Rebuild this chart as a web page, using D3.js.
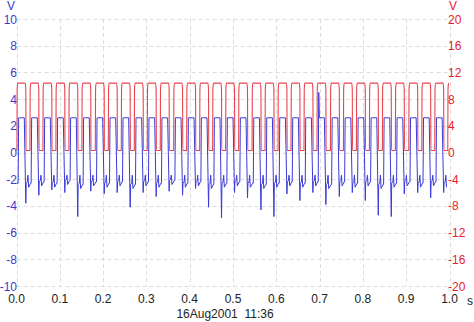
<!DOCTYPE html>
<html>
<head>
<meta charset="utf-8">
<script src="https://cdn.jsdelivr.net/npm/d3@7/dist/d3.min.js"></script>
<style>
  html, body { margin: 0; padding: 0; background: #fff; }
  svg { display: block; }
  text { font-family: "Liberation Sans", Arial, sans-serif; }
</style>
</head>
<body>
<svg id="chart" width="474" height="322"></svg>
<script>
// Scope capture, 16 Aug 2001 11:36 — two channels over one second.
const xTicks = [0.0, 0.1, 0.2, 0.3, 0.4, 0.5, 0.6, 0.7, 0.8, 0.9, 1.0];
const leftTicks = [10, 8, 6, 4, 2, 0, -2, -4, -6, -8, -10];
const rightTicks = [20, 16, 12, 8, 4, 0, -4, -8, -12, -16, -20];
const timeUnit = "s";
const leftUnit = "V";
const rightUnit = "V";
const stamp = "16Aug2001  11:36";

// Channel B (red, right axis): rising / falling edge times of each pulse
const redRise = [0.001, 0.031, 0.061, 0.091, 0.121, 0.151, 0.182, 0.212, 0.242, 0.272,
  0.302, 0.332, 0.363, 0.393, 0.423, 0.453, 0.483, 0.513, 0.544, 0.574, 0.604, 0.634,
  0.664, 0.694, 0.725, 0.755, 0.785, 0.815, 0.845, 0.875, 0.906, 0.936, 0.966, 0.996];
const redFall = [0.022, 0.052, 0.082, 0.112, 0.142, 0.172, 0.203, 0.233, 0.263, 0.293,
  0.323, 0.353, 0.384, 0.414, 0.444, 0.474, 0.504, 0.534, 0.565, 0.595, 0.625, 0.655,
  0.685, 0.715, 0.746, 0.776, 0.806, 0.836, 0.866, 0.896, 0.927, 0.957, 0.987];
const redHigh = 10.4;
const redLow = 0.3;

// Channel A (blue, left axis): per cycle plateau start/end, first-sample level,
// dip minimum after the plateau, and floor level
const blueUp = [0.005, 0.035, 0.065, 0.095, 0.125, 0.155, 0.186, 0.216, 0.246, 0.276,
  0.306, 0.336, 0.367, 0.397, 0.427, 0.457, 0.487, 0.517, 0.548, 0.578, 0.608, 0.638,
  0.668, 0.698, 0.729, 0.759, 0.789, 0.819, 0.849, 0.879, 0.910, 0.940, 0.970];
const blueDown = [0.018, 0.048, 0.078, 0.108, 0.138, 0.168, 0.199, 0.229, 0.259, 0.289,
  0.319, 0.349, 0.380, 0.410, 0.440, 0.470, 0.500, 0.530, 0.561, 0.591, 0.621, 0.651,
  0.681, 0.711, 0.742, 0.772, 0.802, 0.832, 0.862, 0.892, 0.923, 0.953, 0.983];
const blueTop = [2.6, 2.6, 2.6, 2.6, 2.6, 2.6, 2.6, 2.6, 2.6, 2.6, 2.6, 2.6, 2.6, 2.6,
  2.6, 2.6, 2.6, 2.6, 2.6, 2.6, 2.6, 2.6, 2.6, 4.5, 2.6, 2.6, 2.6, 2.6, 2.6, 2.6,
  2.6, 2.6, 2.6];
const blueMin = [-3.8, -3.2, -2.8, -3.0, -4.8, -2.9, -3.1, -3.0, -4.1, -3.0, -3.3,
  -2.9, -3.2, -2.7, -4.1, -4.9, -3.0, -3.4, -4.3, -4.8, -3.1, -3.6, -3.0, -3.9,
  -3.3, -3.0, -3.6, -4.7, -4.8, -3.1, -3.0, -3.4, -3.0];
const blueFloor = [-2.3, -2.2, -2.3, -2.1, -2.4, -2.2, -2.3, -2.2, -2.4, -2.2, -2.3,
  -2.1, -2.3, -2.2, -2.4, -2.3, -2.2, -2.3, -2.4, -2.3, -2.2, -2.3, -2.2, -2.4,
  -2.2, -2.3, -2.2, -2.4, -2.3, -2.2, -2.3, -2.2, -2.3];
const blueBump = -1.7;
const blueHigh = 2.6;

const svg = d3.select("#chart");
const x = d3.scaleLinear().domain([0, 1]).range([16.5, 449.5]);
const yL = d3.scaleLinear().domain([-10, 10]).range([286, 19]);
const yR = d3.scaleLinear().domain([-20, 20]).range([286, 19]);

const blueInk = "#3a3ad8";
const redInk = "#e8454e";

// dashed grid
const grid = svg.append("g").attr("stroke", "#dcdcdc").attr("stroke-dasharray", "4,3").attr("stroke-width", 1);
grid.selectAll("line.v").data(xTicks).join("line")
  .attr("x1", d => Math.round(x(d)) + 0.5).attr("x2", d => Math.round(x(d)) + 0.5)
  .attr("y1", yL(10)).attr("y2", yL(-10));
grid.selectAll("line.h").data(leftTicks).join("line")
  .attr("y1", d => Math.round(yL(d)) + 0.5).attr("y2", d => Math.round(yL(d)) + 0.5)
  .attr("x1", x(0)).attr("x2", x(1));

// red trace: pulses with softened top corners
const ease = 0.0018;
const redPts = [[0, redLow]];
redRise.forEach((r, i) => {
  redPts.push([r, redLow], [r + ease * 0.3, redHigh - 1.0], [r + ease, redHigh]);
  if (i < redFall.length) {
    const f = redFall[i];
    redPts.push([f - ease, redHigh], [f - ease * 0.3, redHigh - 1.0], [f, redLow]);
  }
});
svg.append("path").datum(redPts.filter(p => p[0] <= 1.0))
  .attr("fill", "none").attr("stroke", redInk).attr("stroke-width", 1.1)
  .attr("stroke-linejoin", "round")
  .attr("d", d3.line().curve(d3.curveMonotoneX).x(d => x(d[0])).y(d => yR(d[1])));

// blue trace: plateau, sharp dip at the red falling edge, noisy floor, recovery
const bluePts = [[0, blueFloor[0]]];
blueUp.forEach((u, i) => {
  const d = blueDown[i];
  const next = i + 1 < blueUp.length ? blueUp[i + 1] : 1.0;
  bluePts.push([u - 0.0012, blueFloor[Math.max(0, i - 1)]], [u, blueTop[i]],
    [u + 0.0015, blueHigh], [d, blueHigh], [d + 0.0035, blueMin[i]], [d + 0.0045, blueFloor[i]],
    [d + 0.0070, blueFloor[i] + 0.1], [d + 0.0085, blueBump], [d + 0.0100, blueFloor[i] - 0.3]);
  if (next < 1.0) bluePts.push([next - 0.0025, blueFloor[i]]);
});
svg.append("path").datum(bluePts.filter(p => p[0] <= 1.0))
  .attr("fill", "none").attr("stroke", blueInk).attr("stroke-width", 1)
  .attr("stroke-linejoin", "round")
  .attr("d", d3.line().x(d => x(d[0])).y(d => yL(d[1])));

// axes labels
const fs = 12;
svg.append("g").selectAll("text").data(leftTicks).join("text")
  .attr("x", 17).attr("y", d => yL(d) + 4.5).attr("text-anchor", "end")
  .attr("font-size", fs).attr("fill", "#3a3acc").text(d => d);
svg.append("g").selectAll("text").data(rightTicks).join("text")
  .attr("x", 448).attr("y", d => yR(d) + 4.5).attr("text-anchor", "start")
  .attr("font-size", fs).attr("fill", "#e8202c").text(d => d);
svg.append("g").selectAll("text").data(xTicks).join("text")
  .attr("x", d => x(d)).attr("y", 303).attr("text-anchor", "middle")
  .attr("font-size", fs).attr("fill", "#222").text(d => d.toFixed(1));

svg.append("text").attr("x", 11).attr("y", 10).attr("text-anchor", "middle")
  .attr("font-size", fs).attr("fill", "#3a3acc").text(leftUnit);
svg.append("text").attr("x", 453).attr("y", 10).attr("text-anchor", "middle")
  .attr("font-size", fs).attr("fill", "#e8202c").text(rightUnit);
svg.append("text").attr("x", 470).attr("y", 305).attr("text-anchor", "middle")
  .attr("font-size", fs).attr("fill", "#222").text(timeUnit);
svg.append("text").attr("x", 225).attr("y", 318).attr("text-anchor", "middle")
  .attr("font-size", fs).attr("fill", "#222").attr("xml:space", "preserve").text(stamp);
</script>
</body>
</html>
